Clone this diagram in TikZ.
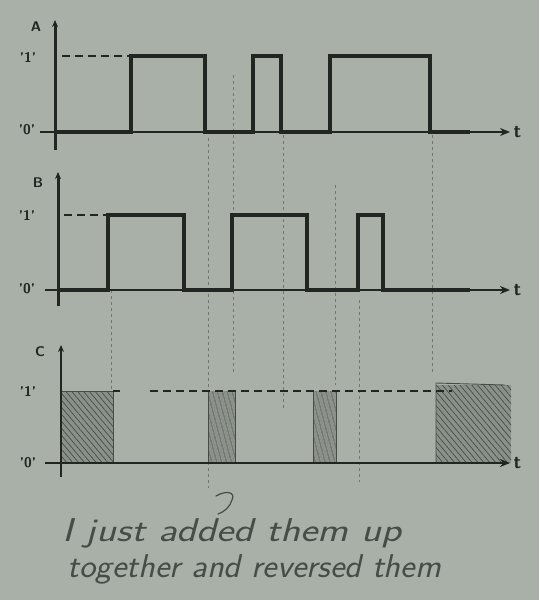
\documentclass[tikz,border=0pt]{standalone}
\usetikzlibrary{arrows.meta,patterns.meta}
\definecolor{paper}{RGB}{168,176,168}
\definecolor{ink}{RGB}{34,38,34}
\definecolor{pencil}{RGB}{70,76,70}
\definecolor{guidec}{RGB}{112,118,112}
\definecolor{hatchbg}{RGB}{138,144,138}
\begin{document}
\begin{tikzpicture}[x=1pt,y=-1pt,
  yaxis/.style={ink, line width=3pt, -{Stealth[length=7pt,width=6pt]}},
  tarrow/.style={ink, line width=2.4pt, -{Stealth[length=10pt,width=8pt]}},
  wave/.style={ink, line width=3.4pt, line join=miter},
  lvl/.style={ink, line width=1.5pt, dash pattern=on 8pt off 5pt},
  guide/.style={guidec, line width=0.8pt, dash pattern=on 3pt off 3pt},
  lab/.style={ink, font=\bfseries\sffamily\fontsize{14}{14}\selectfont},
  tlab/.style={ink, font=\bfseries\sffamily\fontsize{19}{19}\selectfont},
  hatchbox/.style={fill=hatchbg},
  hatchA/.style={pattern={Lines[angle=-50,distance=4.5pt,line width=0.7pt]}, pattern color=pencil},
  hatchB/.style={pattern={Lines[angle=-75,distance=4pt,line width=0.7pt]}, pattern color=pencil},
  hand/.style={pencil, font=\sffamily\itshape\fontsize{33}{33}\selectfont}]
\fill[paper] (0,0) rectangle (539,600);
\useasboundingbox (0,0) rectangle (539,600);

% guide lines
\draw[guide] (208,138) -- (208,488);
\draw[guide] (233,75) -- (233,372);
\draw[guide] (283,135) -- (283,410);
\draw[guide] (335,185) -- (335,385);
\draw[guide] (359,300) -- (359,482);
\draw[guide] (432,135) -- (432,372);
\draw[guide] (111,290) -- (111,391);

% ---------- A ----------
\coordinate (ay0) at (55,150);
\coordinate (ay1) at (55,20);
\coordinate (at0) at (40,132);
\coordinate (at1) at (510,132);
\draw[yaxis] (ay0) -- (ay1);
\draw[tarrow] (at0) -- (at1);
\node[tlab, anchor=west] (tA) at (at1) {t};
\node[lab] (lA) at (36,27) {A};
\node[lab] (A1) at (28,57) {'1'};
\node[lab] (A0) at (27,130) {'0'};
\draw[lvl] (62,56) -- (131,56);
\draw[wave] (55,132) -- (131,132) -- (131,56) -- (205,56) -- (205,132)
  -- (253,132) -- (253,56) -- (281,56) -- (281,132)
  -- (330,132) -- (330,56) -- (430,56) -- (430,132) -- (470,132);

% ---------- B ----------
\coordinate (by0) at (58,306);
\coordinate (by1) at (58,172);
\coordinate (bt0) at (45,290);
\coordinate (bt1) at (510,290);
\draw[yaxis] (by0) -- (by1);
\draw[tarrow] (bt0) -- (bt1);
\node[tlab, anchor=west] (tB) at (bt1) {t};
\node[lab] (lB) at (38,183) {B};
\node[lab] (B1) at (27,215) {'1'};
\node[lab] (B0) at (27,289) {'0'};
\draw[lvl] (64,215) -- (108,215);
\draw[wave] (58,290) -- (108,290) -- (108,215) -- (184,215) -- (184,290)
  -- (232,290) -- (232,215) -- (307,215) -- (307,290)
  -- (358,290) -- (358,215) -- (383,215) -- (383,290) -- (470,290);

% ---------- C ----------
\coordinate (cy0) at (61,477);
\coordinate (cy1) at (61,345);
\coordinate (ct0) at (45,463);
\coordinate (ct1) at (510,463);
\fill[hatchbox] (62,391) rectangle (113,463);
\fill[hatchA] (62,391) rectangle (113,463);
\fill[hatchbox] (208,391) rectangle (235,463);
\fill[hatchB] (208,391) rectangle (235,463);
\fill[hatchbox] (313,391) rectangle (336,463);
\fill[hatchB] (313,391) rectangle (336,463);
\fill[hatchbox] (436,385) rectangle (511,463);
\fill[hatchA] (436,385) rectangle (511,463);
\draw[pencil, line width=0.9pt] (62,391) -- (113,391) -- (113,463);
\draw[pencil, line width=0.9pt] (208,391) -- (208,463) (235,391) -- (235,463);
\draw[pencil, line width=0.9pt] (313,391) -- (313,463) (336,391) -- (336,463);
\draw[pencil, line width=0.9pt] (436,463) -- (436,383) -- (505,385);
\draw[yaxis, line width=2.8pt] (cy0) -- (cy1);
\draw[tarrow, line width=1.8pt] (ct0) -- (ct1);
\node[tlab, anchor=west] (tC) at (ct1) {t};
\node[lab] (lC) at (40,352) {C};
\node[lab] (C1) at (28,391) {'1'};
\node[lab] (C0) at (28,463) {'0'};
\draw[lvl] (113,391) -- (120,391);
\draw[lvl] (150,391) -- (452,391);

% handwriting
\draw[pencil, line width=1.2pt, line cap=round] (216,496) .. controls (226,490) and (236,492) .. (232,500)
  .. controls (230,507) and (224,512) .. (218,514);
\node[hand, anchor=west, xscale=1.25] (h1) at (58,533) {I just added them up};
\node[hand, anchor=west, xscale=1.05] (h2) at (64,569) {together and reversed them};
\end{tikzpicture}
\end{document}
